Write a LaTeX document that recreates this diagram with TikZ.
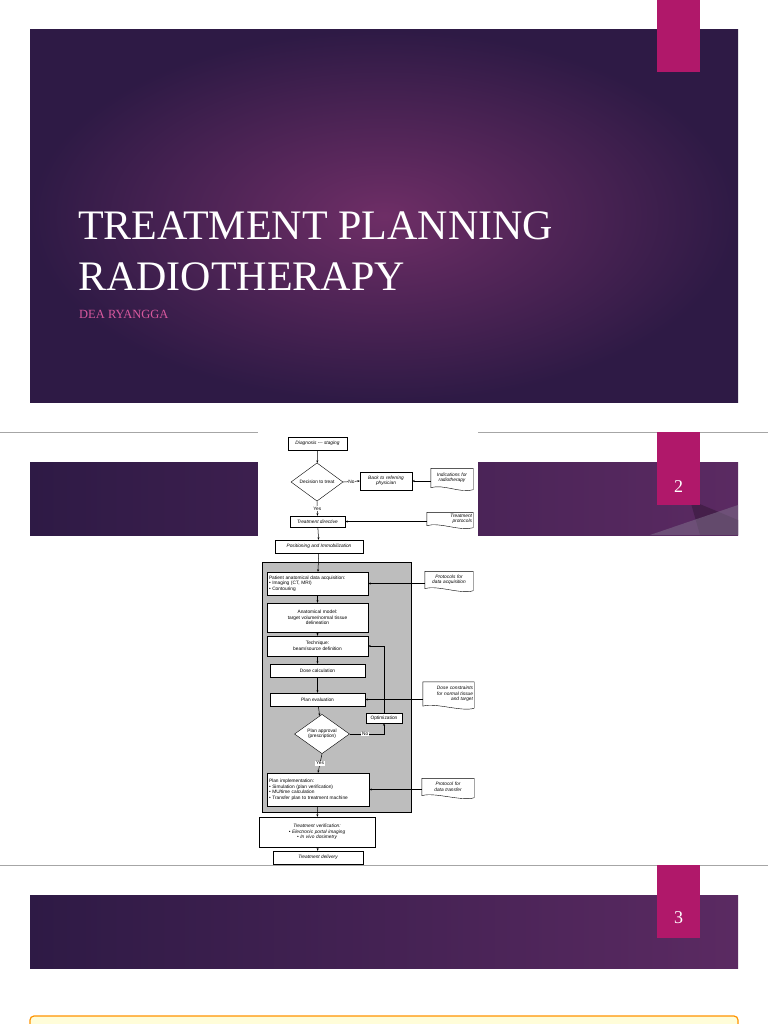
\documentclass[tikz,border=0pt]{standalone}
\usepackage{fontspec}
\setmainfont{Liberation Serif}
\newfontfamily\chartfont{Liberation Sans}
\usetikzlibrary{shapes.geometric,arrows.meta}
\definecolor{tabpink}{HTML}{B0186A}
\definecolor{bandA}{HTML}{2E1A45}
\definecolor{bandB}{HTML}{5B2A62}
\definecolor{centerc}{HTML}{6E2E66}
\definecolor{subpink}{HTML}{D8589E}
\definecolor{grayfill}{HTML}{BDBDBD}
\newcommand{\docpath}[1]{\draw[line width=0.4pt,fill=white] (#1.north west) -- (#1.north east) -- ([yshift=-2pt]#1.south east) .. controls ([xshift=-12pt,yshift=-6pt]#1.south east) and ([xshift=12pt,yshift=4pt]#1.south west) .. (#1.south west) -- cycle;}
\begin{document}
\begin{tikzpicture}[x=1pt,y=-1pt,
  box/.style={draw,line width=0.4pt,fill=white,inner sep=1pt,font=\chartfont\fontsize{4.8}{5.5}\selectfont,align=center},
  dtxt/.style={inner sep=1pt,font=\chartfont\itshape\fontsize{4.8}{5.5}\selectfont,align=center},
  lbl/.style={fill=white,inner sep=0.6pt,font=\chartfont\fontsize{4.8}{5.5}\selectfont},
  arr/.style={-{Stealth[length=2.5pt,width=2pt]},line width=0.5pt},
  tab/.style={fill=tabpink,draw=none},
  band/.style={left color=bandA,right color=bandB,draw=none}]
\useasboundingbox (0,0) rectangle (768,1024);
\fill[white] (0,0) rectangle (768,1024);
% slide 1
\fill[bandA] (30,30) rectangle (738,402);
\shade[inner color=centerc,outer color=bandA] (30,30) rectangle (738,402);
\fill[tab] (657,0) rectangle (700,72);
\node[anchor=base west,text=white,font=\fontsize{42}{48}\selectfont,inner sep=0] (title) at (78,240) {TREATMENT PLANNING};
\node[anchor=base west,text=white,font=\fontsize{42}{48}\selectfont,inner sep=0] (title2) at (78,290) {RADIOTHERAPY};
\node[anchor=base west,text=subpink,font=\fontsize{12.5}{14}\selectfont,inner sep=0] (sub) at (79,318) {DEA RYANGGA};
% slide 2
\draw[gray!70,line width=0.6pt] (0,432) -- (768,432);
\draw[gray!70,line width=0.6pt] (0,865) -- (768,865);
\shade[band] (30,462) rectangle (738,535);
\fill[bandB!70!black,opacity=0.8] (690,500) -- (738,520) -- (738,535) -- (700,535) -- cycle;
\fill[bandA!60!white,opacity=0.5] (650,535) -- (738,505) -- (738,535) -- cycle;
\fill[tab] (657,432) rectangle (700,505);
\node[text=white,font=\fontsize{18}{20}\selectfont] (n2) at (678.5,487) {2};
% slide 3
\shade[band] (30,895) rectangle (738,968);
\fill[tab] (657,865) rectangle (700,938);
\node[text=white,font=\fontsize{18}{20}\selectfont] (n3) at (678.5,918) {3};
\draw[orange!80!red!70!yellow,fill=yellow!15,line width=1.2pt,rounded corners=4pt] (30,1016) rectangle (738,1040);
% flowchart
\fill[white] (258,432) rectangle (478,865);
\fill[grayfill] (262,562) rectangle (411,812);
\draw[line width=0.4pt] (262,562) rectangle (411,812);
\node[box,minimum width=59,minimum height=13,font=\chartfont\itshape\fontsize{4.8}{5.5}\selectfont] (diag) at (317.5,443.5) {Diagnosis --- staging};
\node[box,diamond,minimum width=52,minimum height=30,inner sep=0] (dec) at (317,482) {Decision to treat};
\node[box,minimum width=52,minimum height=18,text width=50,font=\chartfont\itshape\fontsize{4.8}{5.5}\selectfont] (back) at (386,481) {Back to referring\\physician};
\node[dtxt,minimum width=42,minimum height=19] (ind) at (452,478) {};
\docpath{ind}
\node[dtxt,text width=40] at (ind) {Indications for\\radiotherapy};
\node[box,minimum width=55,minimum height=11,font=\chartfont\itshape\fontsize{4.8}{5.5}\selectfont] (dir) at (317.5,521.5) {Treatment directive};
\node[dtxt,minimum width=46,minimum height=13] (prot) at (450,519) {};
\docpath{prot}
\node[dtxt,text width=44,align=right] at (prot) {Treatment\\protocols};
\node[box,minimum width=88,minimum height=13,font=\chartfont\itshape\fontsize{4.8}{5.5}\selectfont] (pos) at (319,546.5) {Positioning and Immobilization};
\node[box,minimum width=101,minimum height=23,text width=97,align=left] (pat) at (317.5,583.5) {Patient anatomical data acquisition:\\ \textbullet\ Imaging (CT, MRI)\\ \textbullet\ Contouring};
\node[dtxt,minimum width=48,minimum height=17] (pda) at (449,580) {};
\docpath{pda}
\node[dtxt,text width=46] at (pda) {Protocols for\\data acquisition};
\node[box,minimum width=101,minimum height=29,text width=97] (ana) at (317.5,617.5) {Anatomical model:\\target volume/normal tissue\\delineation};
\node[box,minimum width=101,minimum height=20,text width=97] (tech) at (317.5,646) {Technique:\\beam/source definition};
\node[box,minimum width=95,minimum height=13] (dose) at (317.5,670.5) {Dose calculation};
\node[box,minimum width=95,minimum height=13] (eval) at (317.5,699.5) {Plan evaluation};
\node[dtxt,minimum width=51,minimum height=24] (dc) at (448.5,694) {};
\docpath{dc}
\node[dtxt,text width=49,align=right] at (dc) {Dose constraints\\for normal tissue\\and target};
\node[box,minimum width=36,minimum height=10] (opt) at (384,718) {Optimization};
\node[box,diamond,minimum width=55,minimum height=38,inner sep=0,align=center] (appr) at (322,734) {Plan approval\\(prescription)};
\node[box,minimum width=102,minimum height=33,text width=98,align=left] (impl) at (318,789.5) {Plan implementation:\\ \textbullet\ Simulation (plan verification)\\ \textbullet\ MU/time calculation\\ \textbullet\ Transfer plan to treatment machine};
\node[dtxt,minimum width=52,minimum height=17] (pdt) at (448,787) {};
\docpath{pdt}
\node[dtxt,text width=50] at (pdt) {Protocol for\\data transfer};
\node[box,minimum width=116,minimum height=30,text width=112,font=\chartfont\itshape\fontsize{4.8}{5.5}\selectfont] (ver) at (317,832) {Treatment verification:\\ \textbullet\ Electronic portal imaging\\ \textbullet\ In vivo dosimetry};
\node[box,minimum width=90,minimum height=13,font=\chartfont\itshape\fontsize{4.8}{5.5}\selectfont] (del) at (318,857.5) {Treatment delivery};
% arrows
\draw[arr] (diag) -- (dec);
\draw[arr] (dec.east) -- node[lbl] {No} (back.west);
\draw[arr] (ind.west |- back.east) -- (back.east);
\draw[arr] (dec.south) -- node[lbl] {Yes} (dir.north);
\draw[arr] (prot.west |- dir.east) -- (dir.east);
\draw[arr] (dir) -- (pos);
\draw[arr] (pos) -- (pat);
\draw[arr] (pda.west |- pat.east) -- (pat.east);
\draw[arr] (pat) -- (ana);
\draw[arr] (ana) -- (tech);
\draw[arr] (tech) -- (dose);
\draw[arr] (dose) -- (eval);
\draw[arr] (dc.west |- eval.east) -- (eval.east);
\draw[arr] (eval) -- (appr);
\coordinate (nocorner) at (opt.south |- appr.east);
\draw[arr] (appr.east) -- node[lbl,pos=0.45] {No} (nocorner) -- (opt.south);
\coordinate (optup) at (opt.north |- tech.east);
\draw[arr] (opt.north) -- (optup) -- (tech.east);
\draw[arr] (appr.south) -- node[lbl] {Yes} (impl.north);
\draw[arr] (pdt.west |- impl.east) -- (impl.east);
\draw[arr] (impl) -- (ver);
\draw[arr] (ver) -- (del);
\end{tikzpicture}
\end{document}
